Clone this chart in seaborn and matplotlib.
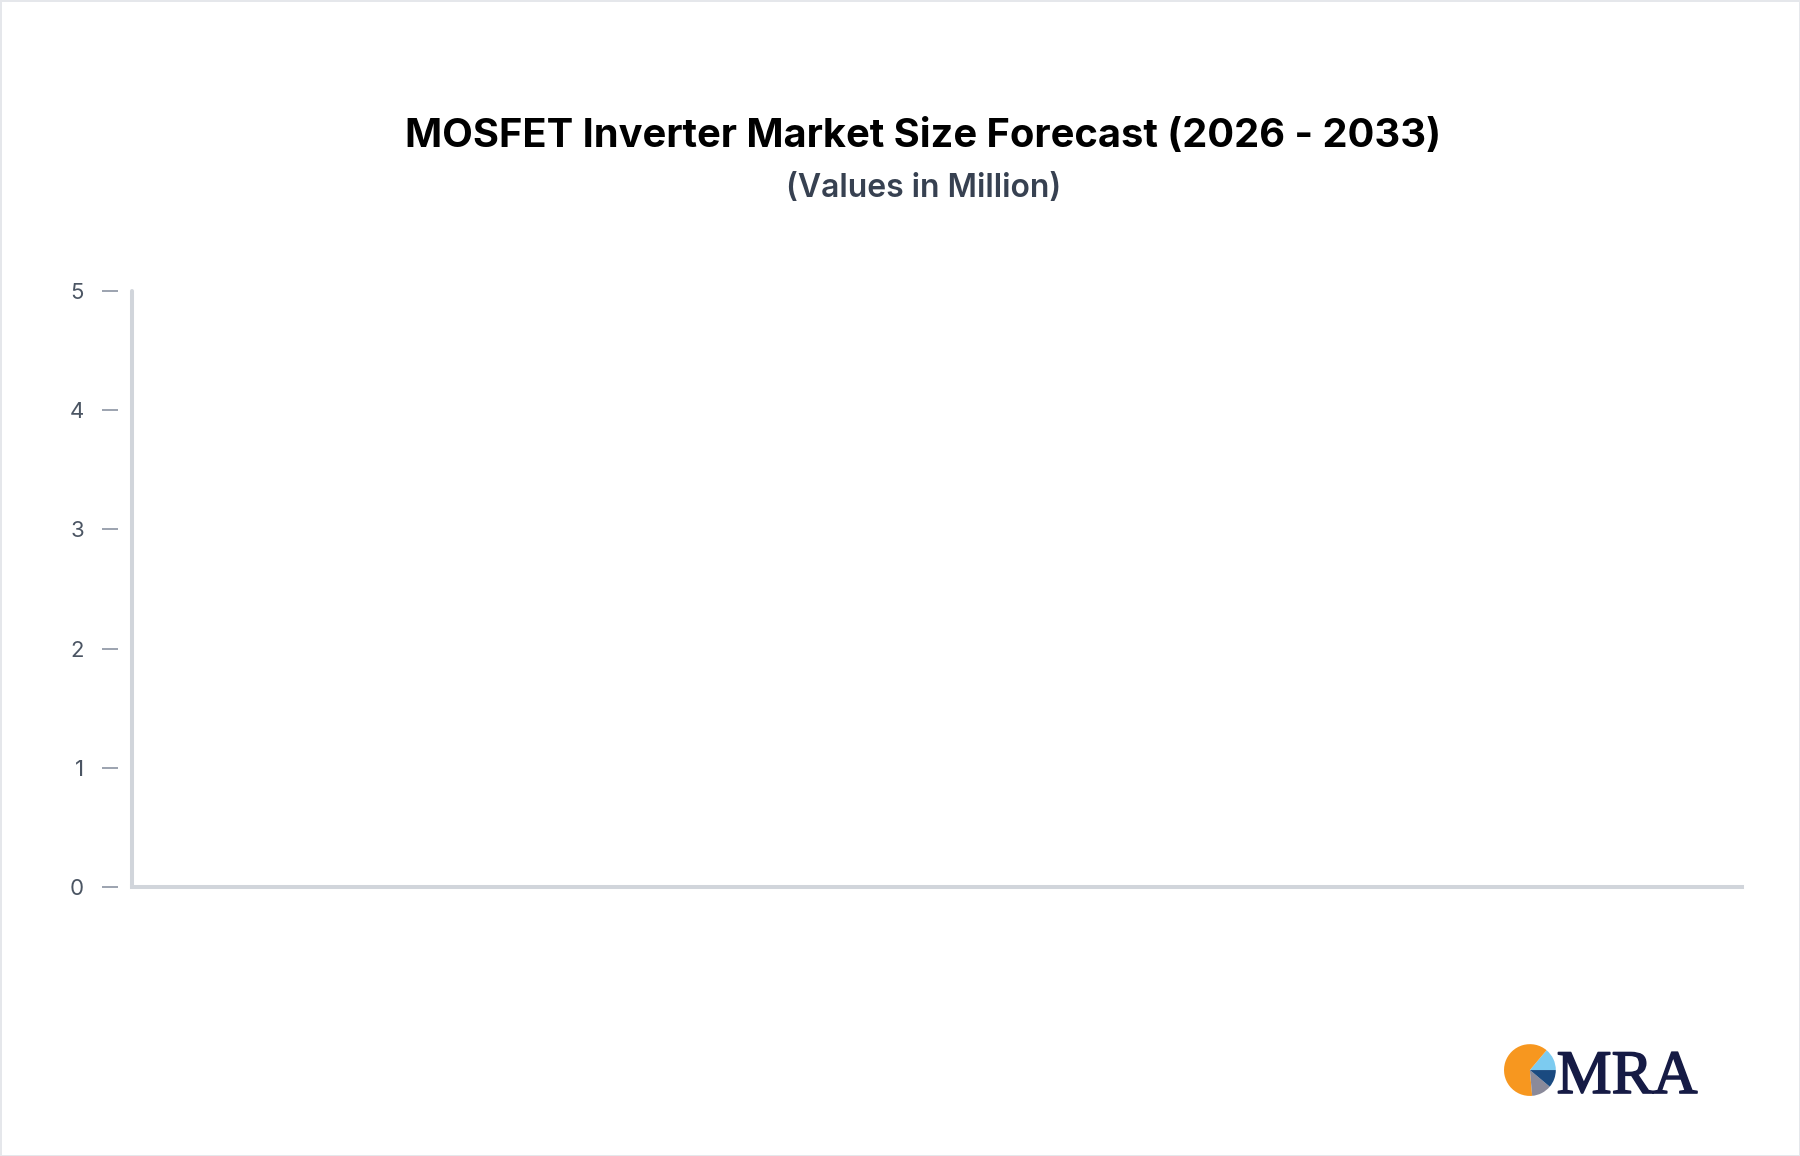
import matplotlib
matplotlib.use("Agg")
import matplotlib.pyplot as plt
import matplotlib.patheffects as pe
import seaborn as sns

# data: forecast window and value axis (no values are plotted in the source chart)
years = [2026, 2027, 2028, 2029, 2030, 2031, 2032, 2033]
y_ticks = [0, 1, 2, 3, 4, 5]
title = "MOSFET Inverter Market Size Forecast (2026 - 2033)"
subtitle = "(Values in Million)"

sns.set_theme(style="white")
plt.rcParams['font.family'] = ['Inter', 'DejaVu Sans']

fig = plt.figure(figsize=(18, 11.56), dpi=100)
fig.patch.set_facecolor('white')
fig.patch.set_edgecolor('#e5e7eb')
fig.patch.set_linewidth(2)

ax = fig.add_axes([0.0733, 0.2327, 0.8944, 0.5156])
ax.set_xlim(-0.5, len(years) - 0.5)
ax.set_ylim(y_ticks[0], y_ticks[-1])
ax.set_yticks(y_ticks)
ax.set_yticklabels([str(t) for t in y_ticks])
ax.set_xticks([])

# spines
for s in ['top', 'right']:
    ax.spines[s].set_visible(False)
ax.spines['bottom'].set_color('#d1d5db')
ax.spines['bottom'].set_linewidth(2.9)
ax.spines['left'].set_visible(False)
ax.spines['left'].set_position(('outward', 10))
ax.axvline(ax.get_xlim()[0], color='#d1d5db', lw=2.9, clip_on=False)

ax.tick_params(axis='y', left=True, length=11.5, width=1.4, color='#9ca3af',
               pad=13, labelsize=16, labelcolor='#4b5563')

fig.text(0.513, 0.873, title, ha='center', va='baseline', fontsize=28.7,
         fontweight='bold', color='#000000')
fig.text(0.513, 0.830, subtitle, ha='center', va='baseline', fontsize=23,
         fontweight='semibold', color='#374151')

# MRA logo
logo = fig.add_axes([0.8333, 0.0484, 0.0333, 0.0519])
logo.pie([50, 225, 45, 40], colors=['#7ccbf0', '#f7971f', '#8a8a9a', '#1a4a80'],
         startangle=0, counterclock=True, wedgeprops={'linewidth': 0}, radius=1.08)
logo.set_aspect('equal')
logo.axis('off')
fig.text(0.8648, 0.0545, "MRA", ha='left', va='baseline', fontsize=44.5,
         family=['Liberation Serif', 'DejaVu Serif'], color='#161b45',
         path_effects=[pe.withStroke(linewidth=1.2, foreground='#161b45')])

plt.savefig('out.png', dpi=100)
